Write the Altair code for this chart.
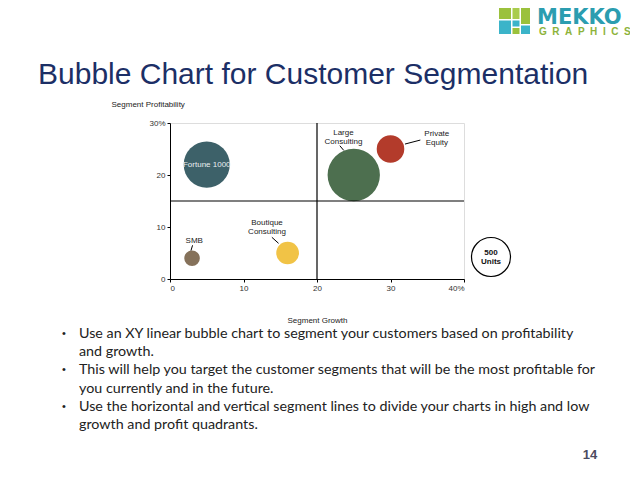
import altair as alt
import pandas as pd

# ---------------- data ----------------
segments = ["Fortune 1000", "Large Consulting", "Private Equity", "SMB", "Boutique Consulting"]
growth = [5, 25, 30, 3, 16]
profit = [22, 20, 25, 4, 5]
units = [700, 900, 250, 80, 170]
colors = ["#3d6169", "#4d6f4f", "#b33b2b", "#85715a", "#f1c346"]

label_text = ["Large\nConsulting", "Private\nEquity", "SMB", "Boutique\nConsulting"]
label_x = [23.6, 36.3, 3.3, 13.2]
label_y = [28.07, 27.88, 7.25, 10.8]
leader_x = [23.1, 31.97, 3.07, 13.86]
leader_y = [25.64, 25.95, 6.48, 8.02]
leader_x2 = [23.64, 34.06, 2.85, 14.77]
leader_y2 = [24.73, 26.72, 5.45, 6.86]

growth_split = [20]
profit_split = [15]
legend_units = [500]

x_ticks = [0, 10, 20, 30, 40]
y_ticks = [0, 10, 20, 30]

title_text = "Bubble Chart for Customer Segmentation"
bullet_lines = [
    "Use an XY linear bubble chart to segment your customers based on profitability",
    "and growth.",
    "This will help you target the customer segments that will be the most profitable for",
    "you currently and in the future.",
    "Use the horizontal and vertical segment lines to divide your charts in high and low",
    "growth and profit quadrants.",
]
bullet_marks = [True, False, True, False, True, False]
page_number = "14"

# ---------------- tables ----------------
bubbles = pd.DataFrame({"segment": segments, "growth": growth, "profit": profit, "units": units})
labels = pd.DataFrame({"label": label_text, "growth": label_x, "profit": label_y})
leaders = pd.DataFrame({"growth": leader_x, "profit": leader_y, "growth2": leader_x2, "profit2": leader_y2})
vsplit = pd.DataFrame({"growth": growth_split})
hsplit = pd.DataFrame({"profit": profit_split})
legend_df = pd.DataFrame({"units": legend_units, "label": ["500\nUnits"]})

FONT = "Liberation Sans"
xs = alt.Scale(domain=[0, 40], nice=False, zero=True)
ys = alt.Scale(domain=[0, 30], nice=False, zero=True)
size_scale = alt.Scale(domain=[0, 1000], range=[0, 3042])

x_axis = alt.Axis(
    values=x_ticks, labelExpr="datum.value == 40 ? '40%' : datum.label",
    title="Segment Growth", titleY=41, titleBaseline="middle", titleFontWeight="normal",
    titleFontSize=8, labelFontSize=8, tickSize=3, grid=False,
    domainColor="black", tickColor="black", labelColor="#333", titleColor="#222", labelPadding=2,
)
y_axis = alt.Axis(
    values=y_ticks, labelExpr="datum.value == 30 ? '30%' : datum.label",
    title="Segment Profitability", titleAngle=0, titleX=-59, titleY=-19, titleAlign="left",
    titleBaseline="middle", titleFontWeight="normal", titleFontSize=8,
    labelFontSize=8, tickSize=3, grid=False,
    domainColor="black", tickColor="black", labelColor="#333", titleColor="#222", labelPadding=2,
)

bubble_layer = alt.Chart(bubbles).mark_circle(opacity=1).encode(
    x=alt.X("growth:Q", scale=xs, axis=x_axis),
    y=alt.Y("profit:Q", scale=ys, axis=y_axis),
    size=alt.Size("units:Q", scale=size_scale, legend=None),
    color=alt.Color("segment:N", scale=alt.Scale(domain=segments, range=colors), legend=None),
)

vrule = alt.Chart(vsplit).mark_rule(color="black", strokeWidth=1.2).encode(x=alt.X("growth:Q", scale=xs))
hrule = alt.Chart(hsplit).mark_rule(color="black", strokeWidth=1.2).encode(y=alt.Y("profit:Q", scale=ys))

leader_layer = alt.Chart(leaders).mark_rule(color="black", strokeWidth=1).encode(
    x=alt.X("growth:Q", scale=xs), x2="growth2:Q",
    y=alt.Y("profit:Q", scale=ys), y2="profit2:Q",
)

label_layer = alt.Chart(labels).mark_text(
    font=FONT, fontSize=8, color="#222", lineBreak="\n", lineHeight=9, align="center", baseline="middle"
).encode(x=alt.X("growth:Q", scale=xs), y=alt.Y("profit:Q", scale=ys), text="label:N")

fortune_label = alt.Chart(bubbles[bubbles.segment == "Fortune 1000"]).mark_text(
    font=FONT, fontSize=8, color="#e9eef0", align="center", baseline="middle"
).encode(x=alt.X("growth:Q", scale=xs), y=alt.Y("profit:Q", scale=ys), text="segment:N")

legend_circle = alt.Chart(legend_df).mark_point(
    shape="circle", filled=True, fill="white", stroke="black", strokeWidth=1.2, opacity=1
).encode(x=alt.value(321), y=alt.value(134), size=alt.Size("units:Q", scale=size_scale, legend=None))
legend_text = alt.Chart(legend_df).mark_text(
    font=FONT, fontSize=8, fontWeight="bold", color="#111", lineBreak="\n", lineHeight=9,
    align="center", baseline="middle"
).encode(x=alt.value(321), y=alt.value(130), text="label:N")

# ---------------- slide decoration ----------------
title_layer = alt.Chart(pd.DataFrame({"t": [title_text]})).mark_text(
    font=FONT, fontSize=30, color="#1c2f66", align="left", baseline="alphabetic"
).encode(x=alt.value(-132), y=alt.value(-39), text="t:N")

bullet_layers = []
base_y = 215
for i, line in enumerate(bullet_lines):
    yv = base_y + i * 18.2
    bullet_layers.append(
        alt.Chart(pd.DataFrame({"t": [line]})).mark_text(
            font="Lato", fontSize=14.3, color="#222", align="left", baseline="alphabetic"
        ).encode(x=alt.value(-91), y=alt.value(yv), text="t:N")
    )
    if bullet_marks[i]:
        bullet_layers.append(
            alt.Chart(pd.DataFrame({"t": ["•"]})).mark_text(
                font=FONT, fontSize=11, color="#222", align="left", baseline="alphabetic"
            ).encode(x=alt.value(-108), y=alt.value(yv - 1), text="t:N")
        )

page_layer = alt.Chart(pd.DataFrame({"t": [page_number]})).mark_text(
    font=FONT, fontSize=13, fontWeight="bold", color="#4b4b60", align="center", baseline="alphabetic"
).encode(x=alt.value(420), y=alt.value(336), text="t:N")

# logo (page coords -> view coords: x-170, y-123)
logo_rects = [
    (499, 8, 511, 19, "#9bc13c"),
    (512.5, 8, 519.5, 19, "#a9cc4c"),
    (521, 8, 530, 24, "#9bc13c"),
    (499, 20.5, 511, 34, "#3bb4c9"),
    (512.5, 20.5, 519.5, 26.5, "#3bb4c9"),
    (512.5, 28, 519.5, 34, "#9bc13c"),
    (521, 25.5, 530, 34, "#3bb4c9"),
]
logo_layers = []
for (x1, y1, x2, y2, c) in logo_rects:
    logo_layers.append(
        alt.Chart(pd.DataFrame({"k": [0]})).mark_rect(color=c).encode(
            x=alt.value(x1 - 170), x2=alt.value(x2 - 170), y=alt.value(y1 - 123), y2=alt.value(y2 - 123)
        )
    )
logo_layers.append(
    alt.Chart(pd.DataFrame({"t": ["MEKKO"]})).mark_text(
        font="DejaVu Sans", fontSize=21, fontWeight="bold", color="#2b9db0", align="left", baseline="alphabetic"
    ).encode(x=alt.value(537 - 170), y=alt.value(24 - 123), text="t:N")
)
nb = "\u00a0\u00a0"
logo_layers.append(
    alt.Chart(pd.DataFrame({"t": [nb.join("GRAPHICS")]})).mark_text(
        font=FONT, fontSize=10, fontWeight="bold", color="#8db33a", align="left", baseline="alphabetic"
    ).encode(x=alt.value(539 - 170), y=alt.value(34.5 - 123), text="t:N")
)

chart = alt.layer(
    bubble_layer, vrule, hrule, leader_layer, label_layer, fortune_label,
    legend_circle, legend_text, title_layer, page_layer, *bullet_layers, *logo_layers
).properties(
    width=294, height=156,
    autosize=alt.AutoSizeParams(type="none"),
    padding={"left": 162, "top": 115, "right": 166, "bottom": 192},
    background="white",
).configure_view(
    stroke="black", strokeWidth=1
).configure(font=FONT)

chart.save("out.html", embed_options={"renderer": "svg", "actions": False})
